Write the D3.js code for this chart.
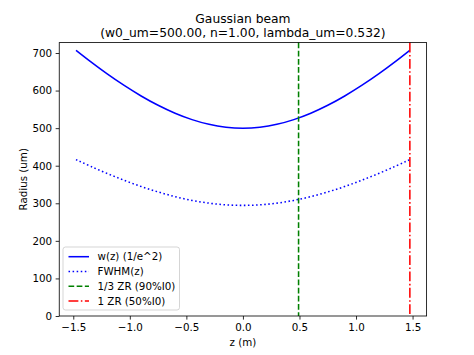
<!DOCTYPE html>
<html><head><meta charset="utf-8">
<script src="https://cdn.jsdelivr.net/npm/d3@7"></script>
<style>body{margin:0;background:#fff}svg{display:block;font-family:"DejaVu Sans",sans-serif}</style>
</head><body><svg id="c" width="474" height="355"></svg>
<script>
const zValues = [-1.476,-1.35,-1.2,-1.05,-0.9,-0.75,-0.6,-0.45,-0.3,-0.15,0,0.15,0.3,0.45,0.6,0.75,0.9,1.05,1.2,1.35,1.476];
const wValues = [707.1,677.6,644.3,613.6,585.6,560.8,539.7,522.7,510.2,502.6,500,502.6,510.2,522.7,539.7,560.8,585.6,613.6,644.3,677.6,707.1];
const fwhmValues = [416.3,398.9,379.3,361.2,344.7,330.2,317.7,307.7,300.4,295.9,294.4,295.9,300.4,307.7,317.7,330.2,344.7,361.2,379.3,398.9,416.3];
const vlineThird = 0.492;
const vlineZR = 1.476;
const xTicks = [-1.5,-1.0,-0.5,0.0,0.5,1.0,1.5];
const yTicks = [0,100,200,300,400,500,600,700];
const legendLabels = ["w(z) (1/e^2)","FWHM(z)","1/3 ZR (90%I0)","1 ZR (50%I0)"];
const titleLines = ["Gaussian beam","(w0_um=500.00, n=1.00, lambda_um=0.532)"];

const svg = d3.select("#c");
const L=59.25, R=426.6, T=42.6, B=316;
const x = d3.scaleLinear().domain([-1.624,1.624]).range([L,R]);
const y = d3.scaleLinear().domain([0,727.7]).range([B,T]);

const lw = 1.54;
const line = (vals) => d3.line().x((d,i)=>x(zValues[i])).y(d=>y(d)).curve(d3.curveNatural)(vals);

const g = svg.append("g");
g.append("path").attr("d",line(wValues)).attr("fill","none").attr("stroke","#0000ff").attr("stroke-width",lw);
g.append("path").attr("d",line(fwhmValues)).attr("fill","none").attr("stroke","#0000ff").attr("stroke-width",lw).attr("stroke-dasharray","1.54,2.54");
g.append("line").attr("x1",x(vlineThird)).attr("x2",x(vlineThird)).attr("y1",T).attr("y2",B).attr("stroke","#008000").attr("stroke-width",lw).attr("stroke-dasharray","5.7,2.47");
g.append("line").attr("x1",x(vlineZR)).attr("x2",x(vlineZR)).attr("y1",T).attr("y2",B).attr("stroke","#ff0000").attr("stroke-width",lw).attr("stroke-dasharray","9.87,2.47,1.54,2.47");

// frame
svg.append("rect").attr("x",L).attr("y",T).attr("width",R-L).attr("height",B-T).attr("fill","none").attr("stroke","#000").attr("stroke-width",0.82);

const fmt = v => (v<0?"\u2212":"")+Math.abs(v).toFixed(1);
const xa = svg.append("g").attr("transform",`translate(0,${B})`).call(d3.axisBottom(x).tickValues(xTicks).tickFormat(fmt).tickSize(3.6).tickPadding(3.6));
const ya = svg.append("g").attr("transform",`translate(${L},0)`).call(d3.axisLeft(y).tickValues(yTicks).tickFormat(d3.format("d")).tickSize(3.6).tickPadding(3.6));
[xa,ya].forEach(a=>{a.select(".domain").remove();a.selectAll("line").attr("stroke","#000").attr("stroke-width",0.82);a.selectAll("text").attr("font-size","10.3px").attr("font-family","DejaVu Sans").attr("fill","#000");});

svg.append("text").attr("x",(L+R)/2).attr("y",346).attr("text-anchor","middle").attr("font-size","10.3px").text("z (m)");
svg.append("text").attr("transform",`translate(26.5,${(T+B)/2}) rotate(-90)`).attr("text-anchor","middle").attr("font-size","10.3px").text("Radius (um)");
titleLines.forEach((t,i)=>svg.append("text").attr("x",(L+R)/2).attr("y",22.5+i*14).attr("text-anchor","middle").attr("font-size","12.3px").text(t));

// legend
const lg = svg.append("g");
lg.append("rect").attr("x",63).attr("y",247).attr("width",116.5).attr("height",63).attr("rx",2.5).attr("fill","#fff").attr("fill-opacity",0.8).attr("stroke","#cccccc").attr("stroke-width",0.82);
const styles = [
  {c:"#0000ff",d:null},{c:"#0000ff",d:"1.54,2.54"},{c:"#008000",d:"5.7,2.47"},{c:"#ff0000",d:"9.87,2.47,1.54,2.47"}];
legendLabels.forEach((t,i)=>{
  const yy = 256.7 + i*14.8;
  const l = lg.append("line").attr("x1",68.5).attr("x2",89).attr("y1",yy).attr("y2",yy).attr("stroke",styles[i].c).attr("stroke-width",lw);
  if(styles[i].d) l.attr("stroke-dasharray",styles[i].d);
  lg.append("text").attr("x",97.5).attr("y",yy+3.7).attr("font-size","10.3px").text(t);
});
</script></body></html>
